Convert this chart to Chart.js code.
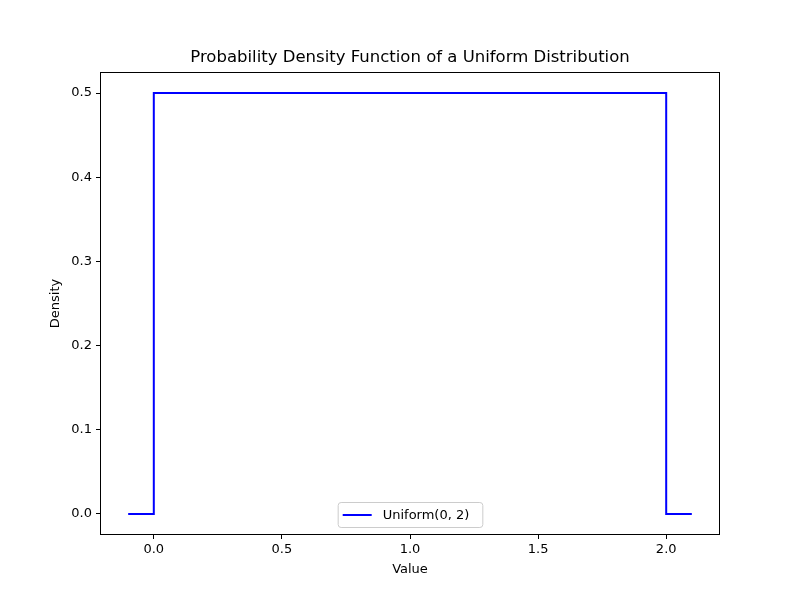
<!DOCTYPE html>
<html>
<head>
<meta charset="utf-8">
<script src="https://cdn.jsdelivr.net/npm/chart.js@4"></script>
<style>
  html, body { margin: 0; padding: 0; background: #fff; }
</style>
</head>
<body>
<canvas id="pdf" width="800" height="600"></canvas>
<script>
// corner points of the uniform pdf curve
const xValues = [-0.1, 0.0, 0.0, 2.0, 2.0, 2.1];
const density = [0.0, 0.0, 0.5, 0.5, 0.0, 0.0];
const xTicks = [0.0, 0.5, 1.0, 1.5, 2.0];
const yTicks = [0.0, 0.1, 0.2, 0.3, 0.4, 0.5];
const seriesLabel = 'Uniform(0, 2)';
const titleText = 'Probability Density Function of a Uniform Distribution';

const FONT = 'DejaVu Sans';

// frame on all four sides + title centred over the plot, like matplotlib
const frame = {
  id: 'frame',
  afterDatasetsDraw(chart) {
    const { ctx, chartArea: a } = chart;
    ctx.save();
    ctx.strokeStyle = '#000';
    ctx.lineWidth = 1;
    ctx.strokeRect(a.left + 0.5, a.top + 0.5, a.right - a.left - 1, a.bottom - a.top - 1);
    ctx.fillStyle = '#000';
    ctx.font = '16.5px "' + FONT + '"';
    ctx.textAlign = 'center';
    ctx.textBaseline = 'middle';
    ctx.fillText(titleText, (a.left + a.right) / 2, a.top - 14);
    ctx.restore();
  }
};

// legend box inside the plot, lower center
const innerLegend = {
  id: 'innerLegend',
  afterDraw(chart) {
    const { ctx, chartArea: a } = chart;
    const ds = chart.data.datasets[0];
    ctx.save();
    ctx.font = '13px "' + FONT + '"';
    const tw = ctx.measureText(ds.label).width;
    const w = tw + 58, h = 25;
    const x = (a.left + a.right) / 2 - w / 2;
    const y = a.bottom - 8 - h;
    ctx.fillStyle = 'rgba(255,255,255,0.8)';
    ctx.strokeStyle = '#cccccc';
    ctx.lineWidth = 1;
    ctx.beginPath();
    ctx.roundRect(x + 0.5, y + 0.5, w, h, 3);
    ctx.fill();
    ctx.stroke();
    ctx.strokeStyle = ds.borderColor;
    ctx.lineWidth = 2;
    ctx.beginPath();
    ctx.moveTo(x + 5, y + h / 2 + 0.5);
    ctx.lineTo(x + 34, y + h / 2 + 0.5);
    ctx.stroke();
    ctx.fillStyle = '#000';
    ctx.textBaseline = 'middle';
    ctx.fillText(ds.label, x + 45, y + h / 2 + 1);
    ctx.restore();
  }
};

const ctx = document.getElementById('pdf');

const chart = new Chart(ctx, {
  type: 'scatter',
  data: {
    datasets: [{
      label: seriesLabel,
      data: xValues.map((x, i) => ({ x: x, y: density[i] })),
      showLine: true,
      borderColor: '#0000ff',
      borderWidth: 2,
      pointRadius: 0,
      fill: false,
      tension: 0
    }]
  },
  options: {
    responsive: false,
    animation: false,
    devicePixelRatio: 1,
    layout: { padding: { left: 0, right: 80, top: 72, bottom: 0 } },
    plugins: {
      legend: { display: false },
      tooltip: { enabled: false },
      title: { display: false }
    },
    scales: {
      x: {
        type: 'linear',
        min: -0.21,
        max: 2.21,
        afterBuildTicks: s => { s.ticks = xTicks.map(v => ({ value: v })); },
        afterFit: s => { s.height = 65; },
        ticks: {
          color: '#000',
          font: { family: FONT, size: 13 },
          padding: 3,
          maxRotation: 0,
          callback: v => v.toFixed(1)
        },
        grid: { drawOnChartArea: false, drawTicks: true, tickLength: 4, color: '#000' },
        border: { display: false },
        title: {
          display: true,
          text: 'Value',
          color: '#000',
          font: { family: FONT, size: 13 },
          padding: { top: 4, bottom: 23 }
        }
      },
      y: {
        type: 'linear',
        min: -0.025,
        max: 0.525,
        afterBuildTicks: s => { s.ticks = yTicks.map(v => ({ value: v })); },
        afterFit: s => { s.width = 100; },
        ticks: {
          color: '#000',
          font: { family: FONT, size: 13 },
          padding: 4,
          callback: v => v.toFixed(1)
        },
        grid: { drawOnChartArea: false, drawTicks: true, tickLength: 4, color: '#000' },
        border: { display: false },
        title: {
          display: true,
          text: 'Density',
          color: '#000',
          font: { family: FONT, size: 13 },
          padding: { top: 48, bottom: 4 }
        }
      }
    }
  },
  plugins: [frame, innerLegend]
});
</script>
</body>
</html>
